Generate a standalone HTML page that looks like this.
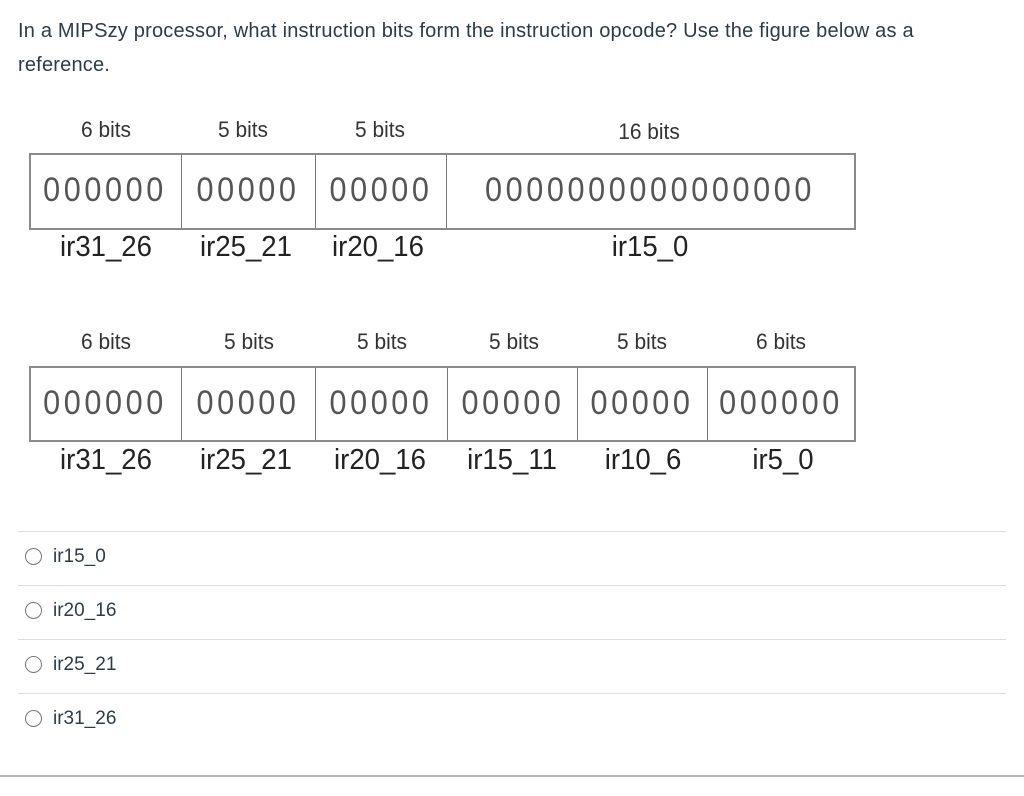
<!DOCTYPE html>
<html><head><style>
body{margin:0;width:1024px;height:796px;background:#fff;position:relative;overflow:hidden;font-family:"Liberation Sans",sans-serif}
.q{position:absolute;left:18px;top:14px;width:985px;font-size:20px;line-height:34px;color:#2d3b45;letter-spacing:0.2px}
.t{position:absolute;white-space:nowrap;transform:translateX(-50%) scaleX(0.95);color:#333}
.b{font-size:22px}
.l{font-size:29px;color:#222}
.box{position:absolute;border:2px solid #8a8a8a;box-sizing:border-box}
.d{position:absolute;top:0;bottom:0;width:1px;background:#777}
.z{position:absolute;font-size:34px;color:#555;letter-spacing:4px;transform:translateX(-50%) scaleX(0.9);white-space:nowrap}
.hr{position:absolute;left:18px;right:18px;height:1px;background:#ddd}
.opt{position:absolute;left:25px;font-size:19px;color:#2d3b45}
.opt span{display:inline-block;width:17px;height:17px;border:1.5px solid #777;border-radius:50%;vertical-align:-3px;margin-right:11px;box-sizing:border-box}
</style></head><body>
<div class="q">In a MIPSzy processor, what instruction bits form the instruction opcode? Use the figure below as a reference.</div>

<div class="t b" style="left:106px;top:117px">6 bits</div>
<div class="t b" style="left:243px;top:117px">5 bits</div>
<div class="t b" style="left:380px;top:117px">5 bits</div>
<div class="t b" style="left:649px;top:119px">16 bits</div>
<div class="box" style="left:29px;top:153px;width:827px;height:77px">
<div class="d" style="left:150px"></div><div class="d" style="left:284px"></div><div class="d" style="left:415px"></div>
</div>
<div class="z" style="left:105px;top:171px">000000</div>
<div class="z" style="left:248px;top:171px">00000</div>
<div class="z" style="left:381px;top:171px">00000</div>
<div class="z" style="left:650px;top:171px">0000000000000000</div>
<div class="t l" style="left:106px;top:231px">ir31_26</div>
<div class="t l" style="left:246px;top:231px">ir25_21</div>
<div class="t l" style="left:378px;top:231px">ir20_16</div>
<div class="t l" style="left:650px;top:231px">ir15_0</div>

<div class="t b" style="left:106px;top:329px">6 bits</div>
<div class="t b" style="left:249px;top:329px">5 bits</div>
<div class="t b" style="left:382px;top:329px">5 bits</div>
<div class="t b" style="left:514px;top:329px">5 bits</div>
<div class="t b" style="left:642px;top:329px">5 bits</div>
<div class="t b" style="left:781px;top:329px">6 bits</div>
<div class="box" style="left:29px;top:366px;width:827px;height:76px">
<div class="d" style="left:150px"></div><div class="d" style="left:284px"></div><div class="d" style="left:416px"></div><div class="d" style="left:546px"></div><div class="d" style="left:676px"></div>
</div>
<div class="z" style="left:105px;top:384px">000000</div>
<div class="z" style="left:248px;top:384px">00000</div>
<div class="z" style="left:381px;top:384px">00000</div>
<div class="z" style="left:513px;top:384px">00000</div>
<div class="z" style="left:642px;top:384px">00000</div>
<div class="z" style="left:781px;top:384px">000000</div>
<div class="t l" style="left:106px;top:444px">ir31_26</div>
<div class="t l" style="left:246px;top:444px">ir25_21</div>
<div class="t l" style="left:380px;top:444px">ir20_16</div>
<div class="t l" style="left:512px;top:444px">ir15_11</div>
<div class="t l" style="left:643px;top:444px">ir10_6</div>
<div class="t l" style="left:783px;top:444px">ir5_0</div>

<div class="hr" style="top:531px"></div>
<div class="opt" style="top:546px"><span></span>ir15_0</div>
<div class="hr" style="top:585px"></div>
<div class="opt" style="top:600px"><span></span>ir20_16</div>
<div class="hr" style="top:639px"></div>
<div class="opt" style="top:654px"><span></span>ir25_21</div>
<div class="hr" style="top:693px"></div>
<div class="opt" style="top:708px"><span></span>ir31_26</div>
<div style="position:absolute;left:0;right:0;top:775px;height:2px;background:#bbb"></div>
</body></html>
